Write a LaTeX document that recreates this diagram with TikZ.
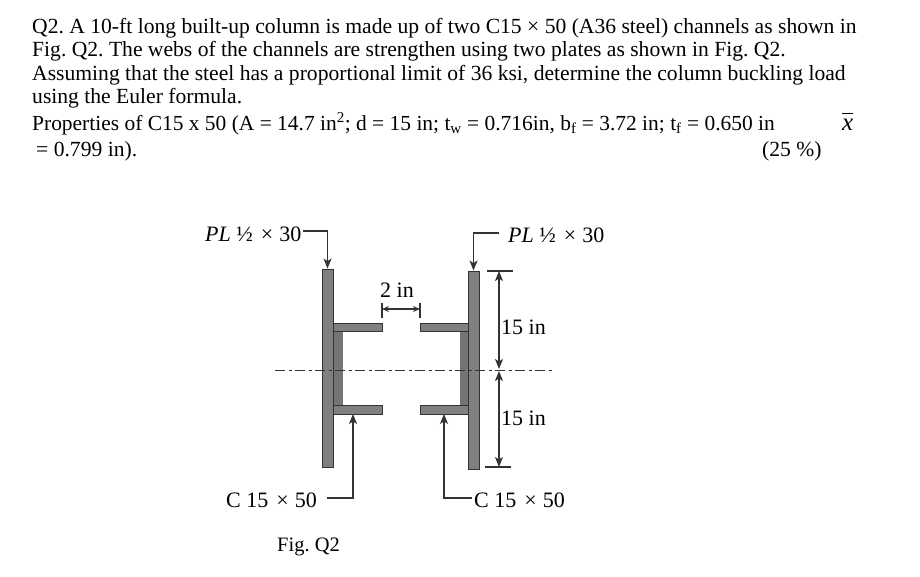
\documentclass[tikz,border=0pt]{standalone}
\usepackage{fontspec}
\setmainfont{Liberation Serif}
\frenchspacing
\usetikzlibrary{arrows.meta}
\definecolor{steel}{HTML}{808080}
\definecolor{webgrey}{HTML}{747474}
\definecolor{ink}{HTML}{333333}
\tikzset{
  x=1pt,y=-1pt,
  body/.style={anchor=base west,inner sep=0pt,font=\fontsize{21.6}{24}\selectfont,text=black},
  lab/.style={anchor=base west,inner sep=0pt,font=\fontsize{22}{24}\selectfont,text=black},
  part/.style={draw=ink,line width=0.9pt,fill=steel,rectangle,inner sep=0pt},
  webpart/.style={draw=webgrey,line width=0.8pt,fill=webgrey,rectangle,inner sep=0pt},
  lead/.style={draw=ink,line width=1.1pt,-{Stealth[length=10pt,width=8pt,inset=2.5pt]}},
  plainline/.style={draw=ink,line width=1.1pt},
  centre/.style={draw=ink,line width=1pt,dash pattern=on 10pt off 3.5pt on 3pt off 3.5pt},
}
\newcommand{\partbox}[6]{\node[#6,minimum width=#4pt-#2pt,minimum height=#5pt-#3pt] (#1) at ({(#2+#4)/2},{(#3+#5)/2}) {};}
\newcommand{\tms}{\hspace{8pt}×\hspace{6pt}}
\begin{document}
\begin{tikzpicture}
\useasboundingbox (0,0) rectangle (920,576);
\fill[white] (0,0) rectangle (920,576);
% question text
\node[body] (l1) at (32,33) {Q2. A 10-ft long built-up column is made up of two C15 × 50 (A36 steel) channels as shown in};
\node[body] (l2) at (32,56) {Fig. Q2. The webs of the channels are strengthen using two plates as shown in Fig. Q2.};
\node[body] (l3) at (32,80) {Assuming that the steel has a proportional limit of 36 ksi, determine the column buckling load};
\node[body] (l4) at (32,103) {using the Euler formula.};
\node[body,font=\fontsize{21.45}{24}\selectfont] (l5) at (32,130) {Properties of C15 x 50 (A = 14.7 in\textsuperscript{2}; d = 15 in; t\textsubscript{w} = 0.716in, b\textsubscript{f} = 3.72 in; t\textsubscript{f} = 0.650 in};
\node[body,font=\fontsize{25}{24}\selectfont] (xbar) at (842,130) {\rlap{\raisebox{16.5pt}{\rule{11pt}{0.9pt}}}\textit{x}};
\node[body] (l6) at (36,156) {= 0.799 in).};
\node[body] (pct) at (762,156) {(25 \%)};
% webs
\partbox{webL}{333}{331}{342}{405}{webpart}
\partbox{webR}{460}{331}{468}{405}{webpart}
% plates and flanges
\partbox{plateL}{322}{269}{333}{467}{part}
\partbox{plateR}{468}{271}{479}{469}{part}
\partbox{flLT}{333}{323}{382}{331}{part}
\partbox{flLB}{333}{405}{382}{414}{part}
\partbox{flRT}{420}{323}{468}{331}{part}
\partbox{flRB}{420}{405}{468}{414}{part}
% centre line
\coordinate (cA) at (275,370);
\coordinate (cB) at (555,370);
\draw[centre] (cA) -- (cB);
% labels
\node[lab] (plA) at (205,241) {\textit{PL} ½\tms 30};
\node[lab] (plB) at (508,242) {\textit{PL} ½\tms 30};
\node[lab] (two) at (380,297) {2 in};
\node[lab] (d1) at (501,334) {15 in};
\node[lab] (d2) at (501,425) {15 in};
\node[lab] (cLa) at (226,507) {C 15\tms 50};
\node[lab] (cLb) at (474,507) {C 15\tms 50};
\node[lab,font=\fontsize{20.5}{24}\selectfont] (fig) at (277,551) {Fig. Q2};
% leaders
\coordinate (pA) at (303,231);
\coordinate (pB) at (499,233);
\draw[lead] (pA) -| (plateL.north);
\draw[lead] (pB) -| (plateR.north);
\coordinate (qA) at (327,498);
\coordinate (qB) at (472,498);
\coordinate (qAe) at (353,414);
\coordinate (qBe) at (444,414);
\draw[lead] (qA) -| (qAe);
\draw[lead] (qB) -| (qBe);
% 2 in dimension
\coordinate (tL1) at (382,303); \coordinate (tL2) at (382,318);
\coordinate (tR1) at (420,303); \coordinate (tR2) at (420,318);
\draw[plainline] (tL1) -- (tL2);
\draw[plainline] (tR1) -- (tR2);
\coordinate (tLm) at (382,309); \coordinate (tRm) at (420,309);
\draw[plainline,{Stealth[length=7pt,width=6pt,open]}-{Stealth[length=7pt,width=6pt,open]}] (tLm) -- (tRm);
% 15 in dimensions
\coordinate (dT1) at (487,271); \coordinate (dT2) at (513,271);
\coordinate (dB1) at (485,467); \coordinate (dB2) at (511,467);
\draw[plainline] (dT1) -- (dT2);
\draw[plainline] (dB1) -- (dB2);
\coordinate (dTm) at (499,271); \coordinate (dMa) at (499,369); \coordinate (dMb) at (499,371); \coordinate (dBm) at (499,467);
\draw[plainline,{Stealth[length=10pt,width=8pt,inset=2.5pt]}-{Stealth[length=10pt,width=8pt,inset=2.5pt]}] (dTm) -- (dMa);
\draw[plainline,{Stealth[length=10pt,width=8pt,inset=2.5pt]}-{Stealth[length=10pt,width=8pt,inset=2.5pt]}] (dMb) -- (dBm);
\end{tikzpicture}
\end{document}
